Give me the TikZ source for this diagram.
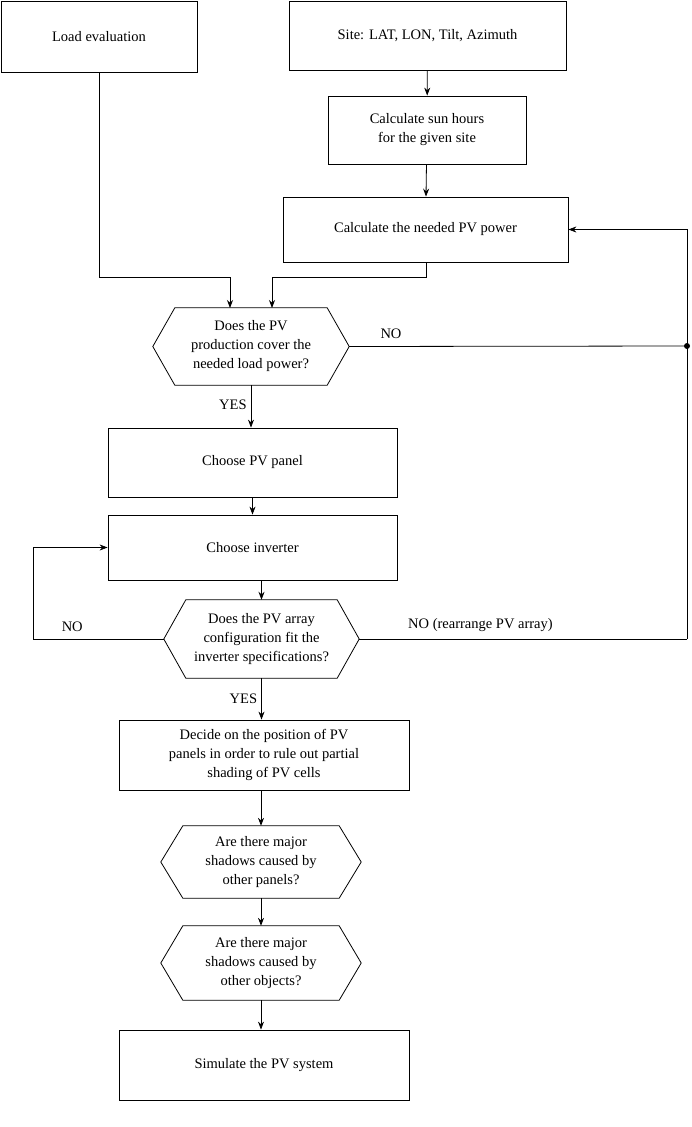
\documentclass[tikz,border=0pt]{standalone}
\usepackage{fontspec}
\setmainfont{Liberation Serif}
\usetikzlibrary{arrows.meta}
\begin{document}
\begin{tikzpicture}[x=1pt,y=-1pt,
  every node/.style={font=\fontsize{14.5}{19}\selectfont},
  box/.style={draw,thick,minimum width=0pt,minimum height=0pt,align=center,inner sep=0pt},
  lbl/.style={inner sep=4pt},
  line/.style={thick},
  arr/.style={thick,-{Stealth[length=8pt,width=6pt]}}]
\useasboundingbox (0,0) rectangle (692,1127);
\newcommand{\bx}[6]{\node[box,minimum width=#4-#2,minimum height=#5-#3] (#1) at ({(#2+#4)/2},{(#3+#5)/2}) {#6};}
\newcommand{\hx}[6]{\node[align=center,inner sep=0pt,minimum width=#4-#2,minimum height=#5-#3] (#1) at ({(#2+#4)/2},{(#3+#5)/2}) {#6};
  \draw[thick] (#1.west) -- ([xshift=22pt]#1.north west) -- ([xshift=-22pt]#1.north east) -- (#1.east) -- ([xshift=-22pt]#1.south east) -- ([xshift=22pt]#1.south west) -- cycle;}
\bx{load}{1}{1}{197}{72}{Load evaluation}
\bx{site}{289}{1}{566}{70}{Site: LAT, LON, Tilt, Azimuth}
\bx{sun}{328}{96}{526}{164}{Calculate sun hours\\for the given site}
\bx{need}{283}{197}{568}{262}{Calculate the needed PV power}
\hx{h1}{153}{308}{349}{385}{Does the PV\\production cover the\\needed load power?}
\bx{panel}{108}{428}{397}{497}{Choose PV panel}
\bx{inv}{108}{515}{397}{580}{Choose inverter}
\hx{h2}{164}{600}{359}{678}{Does the PV array\\configuration fit the\\inverter specifications?}
\bx{pos}{119}{720}{409}{790}{Decide on the position of PV\\panels in order to rule out partial\\shading of PV cells}
\hx{h3}{161}{826}{361}{898}{Are there major\\shadows caused by\\other panels?}
\hx{h4}{161}{926}{361}{1000}{Are there major\\shadows caused by\\other objects?}
\bx{sim}{119}{1030}{409}{1100}{Simulate the PV system}
\coordinate (dot) at (687,346);
\coordinate (rc) at (687,639);
\draw[arr] (site) -- (sun);
\draw[arr] (sun) -- (need);
\draw[arr] (load.south) |- (230,277) -- (230,308);
\draw[arr] (426,262) |- (272,277) -- (272,308);
\draw[line] (h1.east) -- node[lbl,above,pos=0.1,xshift=8pt,yshift=3pt]{NO} (dot);
\fill (dot) circle (3pt);
\draw[line] (h2.east) -- node[lbl,above,pos=0.37,yshift=3pt]{NO (rearrange PV array)} (rc);
\draw[arr] (rc) |- (need.east);
\draw[arr] (h1.south) -- node[lbl,left,pos=0.45]{YES} (h1.south|-panel.north);
\draw[arr] (panel) -- (inv);
\draw[arr] (inv.south-|h2.north) -- (h2.north);
\draw[arr] (h2.west) -- node[lbl,above,pos=0.7,yshift=3pt]{NO} (33,639) |- (inv.west);
\draw[arr] (h2.south) -- node[lbl,left,pos=0.5]{YES} (h2.south|-pos.north);
\draw[arr] (pos.south-|h3.north) -- (h3.north);
\draw[arr] (h3) -- (h4);
\draw[arr] (h4.south) -- (h4.south|-sim.north);
\end{tikzpicture}
\end{document}
